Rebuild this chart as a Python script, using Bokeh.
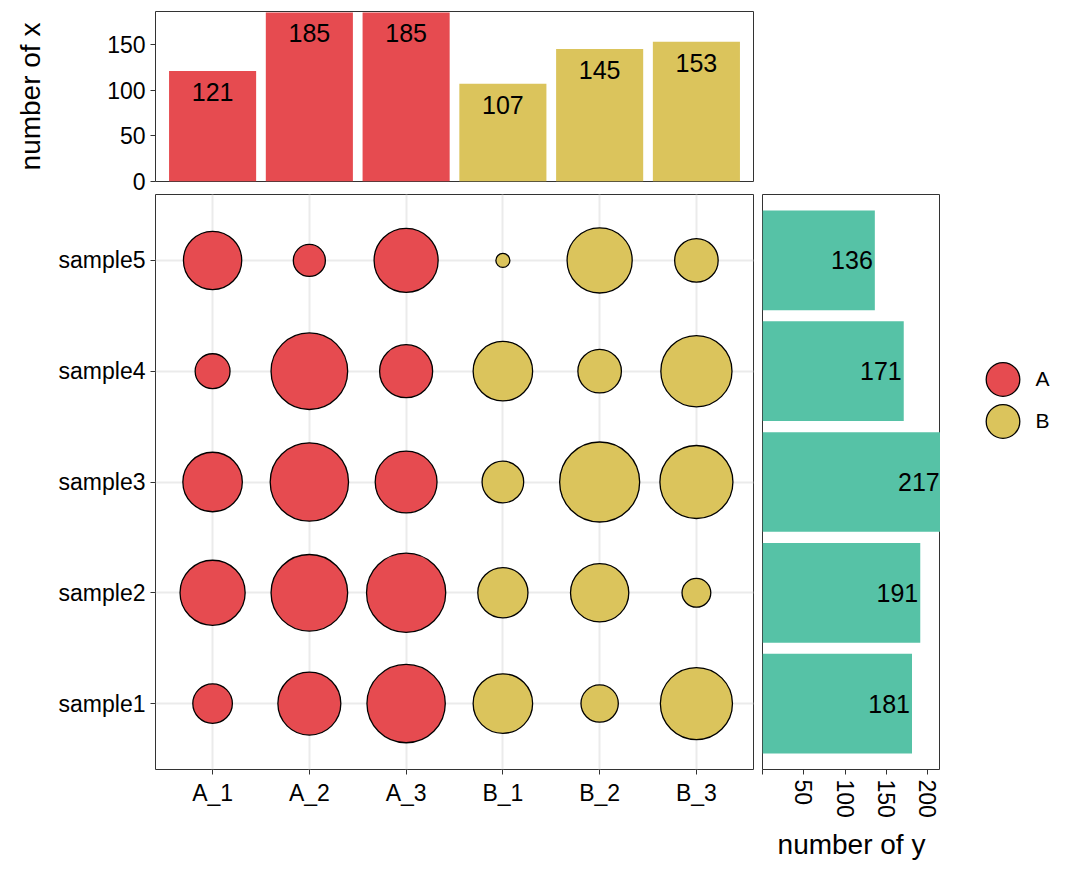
import math
from bokeh.plotting import figure
from bokeh.models import ColumnDataSource, FactorRange, Range1d, Legend, LegendItem, FixedTicker
from bokeh.layouts import column, row
from bokeh.embed import file_html
from bokeh.resources import INLINE
from bokeh.core.properties import value

# ---------------- data ----------------
columns = ["A_1", "A_2", "A_3", "B_1", "B_2", "B_3"]
col_group = ["A", "A", "A", "B", "B", "B"]
groups = ["A", "B"]
samples = ["sample1", "sample2", "sample3", "sample4", "sample5"]
sample1 = [16, 32, 48, 29, 15, 41]
sample2 = [34, 46, 49, 22, 28, 12]
sample3 = [29, 48, 31, 17, 50, 42]
sample4 = [14, 46, 24, 29, 18, 40]
sample5 = [28, 13, 33, 10, 34, 18]
matrix = [sample1, sample2, sample3, sample4, sample5]
top_ticks = [0, 50, 100, 150]
right_ticks = [0, 50, 100, 150, 200]

# ---------------- style ----------------
FONT = "Liberation Sans"
group_colors = {"A": "#E64B50", "B": "#DBC45C"}
teal = "#56C2A6"
border = "#333333"
grid = "#EBEBEB"

col_totals = [sum(m[j] for m in matrix) for j in range(len(columns))]
row_totals = [sum(m) for m in matrix]

# long format for bubbles
xs, ys, vals, grps = [], [], [], []
for si, s in enumerate(samples):
    for j, c in enumerate(columns):
        xs.append(c); ys.append(s); vals.append(matrix[si][j]); grps.append(col_group[j])
vmin, vmax = min(vals), max(vals)
dmin, dmax = 14, 80
sizes = [dmin + (dmax - dmin) * math.sqrt((v - vmin) / (vmax - vmin)) for v in vals]
bsrc = ColumnDataSource(dict(x=xs, y=ys, v=vals, g=grps, size=sizes,
                             color=[group_colors[g] for g in grps]))

x_range = FactorRange(factors=columns, range_padding=0.09, range_padding_units="absolute")
y_range = FactorRange(factors=samples, range_padding=0.095, range_padding_units="absolute")

def style_axis(ax, fs="23px"):
    ax.axis_line_color = None
    ax.major_tick_line_color = border
    ax.major_tick_out = 5
    ax.major_tick_in = 0
    ax.minor_tick_line_color = None
    ax.major_label_text_font = FONT
    ax.major_label_text_font_size = fs
    ax.major_label_text_color = "black"
    ax.axis_label_text_font = FONT
    ax.axis_label_text_font_size = "28px"
    ax.axis_label_text_font_style = "normal"
    ax.axis_label_text_color = "black"

def base(p):
    p.outline_line_color = border
    p.outline_line_width = 1
    p.background_fill_color = "white"
    p.border_fill_color = "white"

# ---------------- top bars ----------------
top = figure(x_range=x_range, y_range=Range1d(0, 186), frame_width=598, frame_height=170,
             min_border_left=155, min_border_top=11, min_border_bottom=13, min_border_right=10,
             output_backend="svg", toolbar_location=None)
base(top)
tsrc = ColumnDataSource(dict(x=columns, top=col_totals, lab=[str(v) for v in col_totals],
                             color=[group_colors[g] for g in col_group]))
top.vbar(x="x", top="top", width=0.9, fill_color="color", line_color=None, source=tsrc)
top.text(x="x", y="top", text="lab", source=tsrc, text_align="center", text_baseline="top",
         y_offset=12, text_font=value(FONT), text_font_size="25px", text_color="black")
top.xaxis.visible = False
top.xgrid.visible = False
top.ygrid.visible = False
top.yaxis.ticker = FixedTicker(ticks=top_ticks)
style_axis(top.yaxis[0])
top.yaxis.axis_label = "number of x"
top.yaxis.axis_label_standoff = 58

# ---------------- main bubbles ----------------
main = figure(x_range=x_range, y_range=y_range, frame_width=598, frame_height=575,
              min_border_left=155, min_border_top=0, min_border_bottom=103, min_border_right=9,
              output_backend="svg", toolbar_location=None)
base(main)
main.xgrid.grid_line_color = grid
main.ygrid.grid_line_color = grid
main.xgrid.grid_line_width = 2
main.ygrid.grid_line_width = 2
main.scatter(x="x", y="y", size="size", fill_color="color", line_color="black",
             line_width=1.3, source=bsrc)
style_axis(main.xaxis[0])
style_axis(main.yaxis[0])

# ---------------- right bars ----------------
right = figure(x_range=Range1d(0, 215.5), y_range=y_range, frame_width=178, frame_height=575,
               min_border_left=0, min_border_top=0, min_border_bottom=103, min_border_right=0,
               output_backend="svg", toolbar_location=None)
base(right)
rsrc = ColumnDataSource(dict(y=samples, right=row_totals, lab=[str(v) for v in row_totals]))
right.hbar(y="y", right="right", height=0.9, fill_color=teal, line_color=None, source=rsrc)
right.text(x="right", y="y", text="lab", source=rsrc, text_align="right", text_baseline="middle",
           x_offset=-2, text_font=value(FONT), text_font_size="25px", text_color="black")
right.yaxis.visible = False
right.xgrid.visible = False
right.ygrid.visible = False
right.xaxis.ticker = FixedTicker(ticks=right_ticks)
style_axis(right.xaxis[0])
right.xaxis.major_label_orientation = -math.pi / 2
right.xaxis.major_label_overrides = {0: ""}
right.xaxis.axis_label = "number of y"
right.xaxis.axis_label_standoff = 8

# ---------------- legend panel ----------------
legfig = figure(x_range=Range1d(0, 1), y_range=Range1d(0, 1), width=140, height=678,
                min_border=0, output_backend="svg", toolbar_location=None)
legfig.axis.visible = False
legfig.grid.visible = False
legfig.outline_line_color = None
legfig.background_fill_color = "white"
legfig.border_fill_color = "white"
items = []
for g in groups:
    lsrc = ColumnDataSource(dict(x=[float("nan")], y=[float("nan")]))
    r = legfig.ellipse(x="x", y="y", width=34, height=34, width_units="screen",
                       height_units="screen", source=lsrc, fill_color=group_colors[g],
                       line_color="black", line_width=1.3)
    items.append(LegendItem(label=g, renderers=[r]))
legend = Legend(items=items, location=(40.5, 327), glyph_width=43, glyph_height=42,
                spacing=0, label_standoff=12, padding=0, margin=0,
                border_line_color=None, background_fill_alpha=0, label_text_font=FONT,
                label_text_font_size="21px", label_text_color="black")
legfig.add_layout(legend)

layout = column(top, row(main, right, legfig))
open("out.html", "w").write(file_html(layout, INLINE))
